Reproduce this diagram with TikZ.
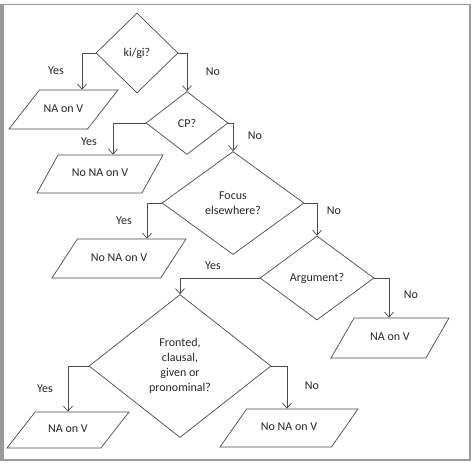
\documentclass[tikz,border=0pt]{standalone}
\usepackage{fontspec}
\setmainfont{Carlito}
\usetikzlibrary{shapes.geometric,arrows.meta}
\definecolor{linegray}{HTML}{4A4A4A}
\definecolor{framegray}{HTML}{9A9A9A}
\begin{document}
\begin{tikzpicture}[x=1pt,y=-1pt,
	font=\fontsize{12}{15}\selectfont,
	text=black!85,
	ask/.style={diamond,draw=linegray,line width=0.7pt,inner sep=0pt,align=center},
	out/.style={trapezium,draw=linegray,line width=0.7pt,inner xsep=0pt,trapezium stretches body,
		text height=8.5pt,text depth=3pt,
		trapezium left angle=#1,trapezium right angle=180-#1},
	arr/.style={draw=linegray,line width=0.7pt,-{Straight Barb[length=5pt,width=9pt]}}]
	\useasboundingbox (0,0) rectangle (474,466);
	\fill[framegray] (0,4) rectangle (3,461);
	\draw[framegray,line width=1.2pt] (3,4.5) rectangle (470,460);
	\node [ask,minimum width=82pt,minimum height=80pt] (d1) at (137,53) {ki/gi?};
	\node [ask,minimum width=82pt,minimum height=63pt] (d2) at (187,123) {CP?};
	\node [ask,minimum width=142pt,minimum height=103pt] (d3) at (233,203) {Focus\\elsewhere?};
	\node [ask,minimum width=114pt,minimum height=84pt] (d4) at (317,278) {Argument?};
	\node [ask,minimum width=182pt,minimum height=143pt] (d5) at (180,366) {Fronted,\\clausal,\\given or\\pronominal?};
	\node [out=52,minimum width=109pt,inner ysep=13.75pt] (p1) at (63.5,109.5) {NA on V};
	\node [out=61,minimum width=126pt,inner ysep=13.25pt] (p2) at (100,174) {No NA on V};
	\node [out=57,minimum width=134pt,inner ysep=13.75pt] (p3) at (119,258.5) {No NA on V};
	\node [out=60,minimum width=118pt,inner ysep=14.25pt] (p4) at (390,338) {NA on V};
	\node [out=52,minimum width=122pt,inner ysep=12.25pt] (p5) at (68,430) {NA on V};
	\node [out=55,minimum width=138pt,inner ysep=13.25pt] (p6) at (289,428) {No NA on V};
	\path[arr] (d1.west) -| (82,0 |- p1.north);
	\path[arr] (d1.east) -| (d2.north);
	\path[arr] (d2.west) -| (113,0 |- p2.north);
	\path[arr] (d2.east) -| (d3.north);
	\path[arr] (d3.west) -| (147,0 |- p3.north);
	\path[arr] (d3.east) -| (d4.north);
	\path[arr] (d4.west) -| (d5.north);
	\path[arr] (d4.east) -| (389,0 |- p4.north);
	\path[arr] (d5.west) -| (68,0 |- p5.north);
	\path[arr] (d5.east) -| (287,0 |- p6.north);
	\node (y1) at (56,71) {Yes};
	\node (n1) at (213,72) {No};
	\node (y2) at (89,142) {Yes};
	\node (n2) at (255,136) {No};
	\node (y3) at (124,221) {Yes};
	\node (n3) at (334,211) {No};
	\node (y4) at (213,266) {Yes};
	\node (n4) at (411,295) {No};
	\node (y5) at (45,389) {Yes};
	\node (n5) at (312,386) {No};
\end{tikzpicture}
\end{document}
